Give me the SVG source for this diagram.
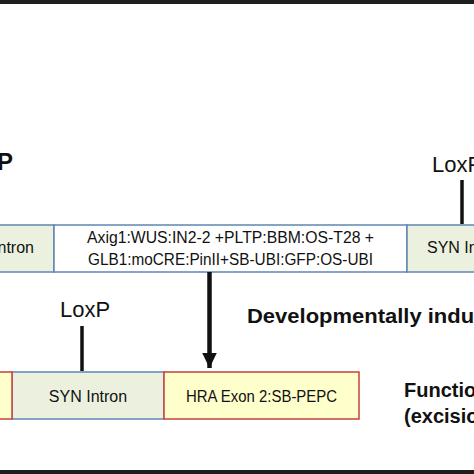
<svg xmlns="http://www.w3.org/2000/svg" width="474" height="474" viewBox="0 0 474 474">
<style>
.g{fill:#ebf1de;stroke:#5f86b4;stroke-width:1.5}
.w{fill:#ffffff;stroke:#5f86b4;stroke-width:1.5}
.y{fill:#ffffcc;stroke:#c9403d;stroke-width:1.5}
.t{font-family:"Liberation Sans",Arial,sans-serif;font-size:16px;fill:#111}
.lox{font-family:"Liberation Sans",Arial,sans-serif;font-size:22px;fill:#111}
.b{font-family:"Liberation Sans",Arial,sans-serif;font-size:20px;font-weight:bold;fill:#111}
.pin{stroke:#111;stroke-width:3.5}
</style>
<defs>
<marker id="ah" markerWidth="4" markerHeight="4" refX="3.4" refY="2" orient="auto" markerUnits="strokeWidth" viewBox="0 0 4 4">
<path d="M0,0.35 L3.4,2 L0,3.65 Z" fill="#111"/>
</marker>
</defs>
<rect x="0" y="0" width="474" height="474" fill="#ffffff"/>
<rect x="0" y="0" width="474" height="4" fill="#1e1e1e"/>
<rect x="0" y="470" width="474" height="4" fill="#1e1e1e"/>

<text class="b" x="13" y="170" text-anchor="end" style="font-size:24px">P</text>

<g id="top-intron-left">
<rect class="g" x="-5" y="225" width="59" height="47"/>
<text class="t" x="34" y="253" text-anchor="end">SYN Intron</text>
</g>
<g id="top-cassette">
<rect class="w" x="54" y="225" width="353" height="47"/>
<text class="t" x="87" y="243" textLength="287" lengthAdjust="spacingAndGlyphs">Axig1:WUS:IN2-2 +PLTP:BBM:OS-T28 +</text>
<text class="t" x="88" y="265" textLength="285" lengthAdjust="spacingAndGlyphs">GLB1:moCRE:PinII+SB-UBI:GFP:OS-UBI</text>
</g>
<g id="top-intron-right">
<rect class="g" x="407" y="225" width="80" height="47"/>
<text class="t" x="427" y="253">SYN Intron</text>
</g>
<g id="top-loxp">
<text class="lox" x="432" y="172">LoxP</text>
<line class="pin" x1="462" y1="180" x2="462" y2="224"/>
</g>

<g id="connectors">
<line x1="209.5" y1="272" x2="209.5" y2="368" stroke="#111" stroke-width="4.5" marker-end="url(#ah)"/>
</g>

<text class="b" x="247" y="323" textLength="265" lengthAdjust="spacingAndGlyphs">Developmentally induced</text>

<g id="bottom-intron">
<rect class="g" x="12" y="372" width="152" height="47"/>
<text class="t" x="88" y="402" text-anchor="middle">SYN Intron</text>
</g>
<g id="bottom-left-exon">
<rect class="y" x="-5" y="372" width="17" height="47"/>
</g>
<g id="bottom-exon2">
<rect class="y" x="164" y="372" width="195" height="47"/>
<text class="t" x="186" y="402" textLength="151" lengthAdjust="spacingAndGlyphs">HRA Exon 2:SB-PEPC</text>
</g>
<g id="bottom-loxp">
<text class="lox" x="60" y="317">LoxP</text>
<line class="pin" x1="82" y1="326" x2="82" y2="371"/>
</g>

<text class="b" x="404" y="397">Functional</text>
<text class="b" x="404" y="423">(excision</text>
</svg>
